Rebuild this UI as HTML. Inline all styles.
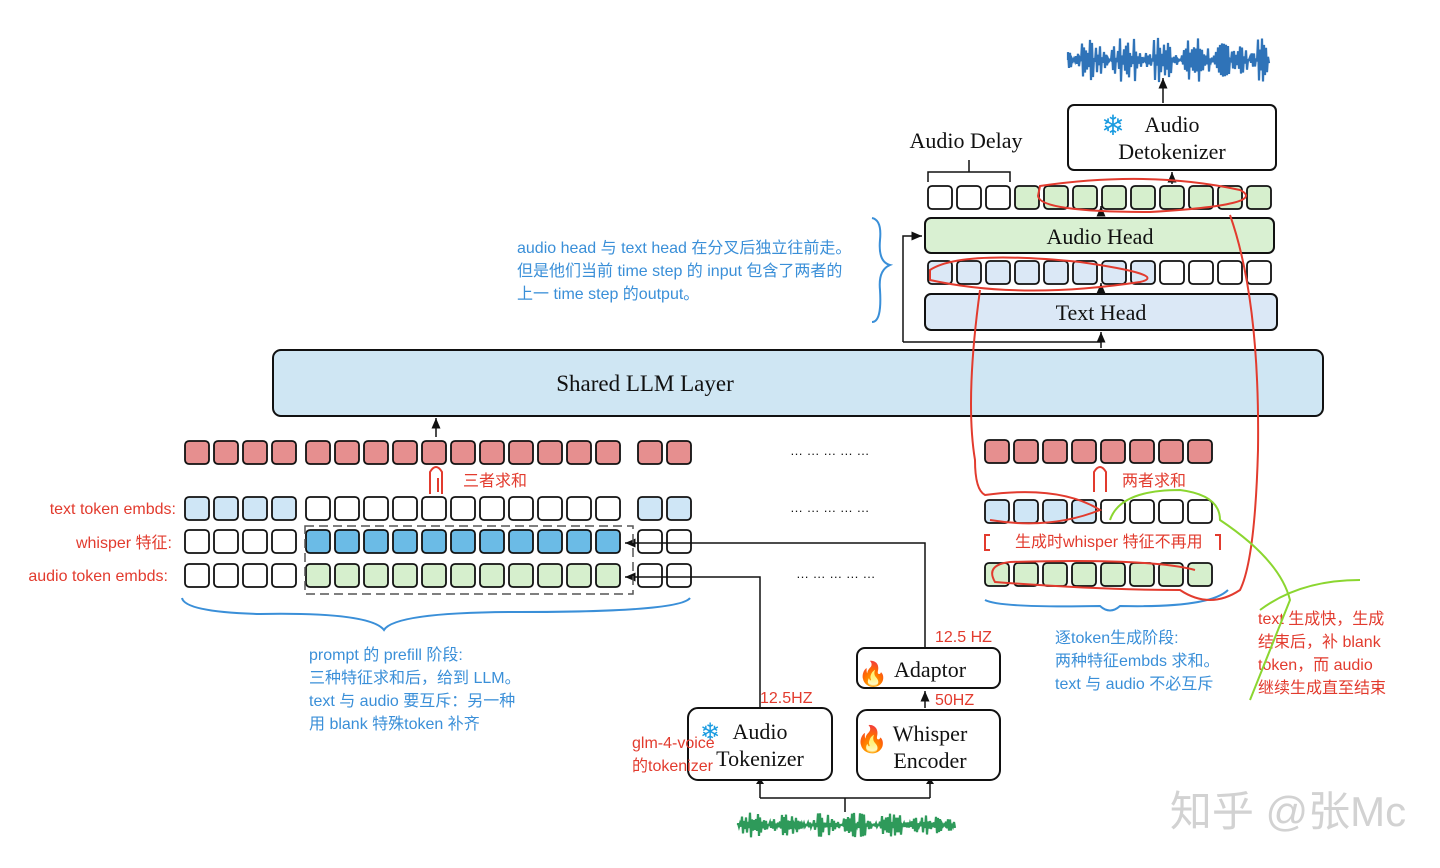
<!DOCTYPE html>
<html><head><meta charset="utf-8">
<style>
html,body{margin:0;padding:0;background:#fff;}
svg{display:block;}
.serif{font-family:"Liberation Serif","Noto Serif CJK SC",serif;fill:#111;}
.cn{font-family:"Liberation Sans","Noto Sans CJK SC",sans-serif;}
</style></head>
<body>
<svg id="s" width="1440" height="868" viewBox="0 0 1440 868" xmlns="http://www.w3.org/2000/svg">
<defs>
<marker id="ar" markerWidth="8" markerHeight="8" refX="7" refY="4" orient="auto"><path d="M0,1 L7,4 L0,7 z" fill="#111"/></marker>
</defs>
<g id="boxes"></g>

<rect x="273" y="350" width="1050" height="66" rx="8" fill="#cfe6f3" stroke="#111" stroke-width="2"/>
<text x="645" y="391" class="serif" font-size="23" text-anchor="middle">Shared LLM Layer</text>

<rect x="925" y="218" width="349" height="35" rx="6" fill="#d9f0d2" stroke="#111" stroke-width="2"/>
<text x="1100" y="244" class="serif" font-size="22" text-anchor="middle">Audio Head</text>
<rect x="925" y="294" width="352" height="36" rx="6" fill="#dbe8f6" stroke="#111" stroke-width="2"/>
<text x="1101" y="320" class="serif" font-size="22" text-anchor="middle">Text Head</text>
<rect x="1068" y="105" width="208" height="65" rx="6" fill="#fff" stroke="#111" stroke-width="2"/>
<text x="1172" y="132" class="serif" font-size="22" text-anchor="middle">Audio</text>
<text x="1172" y="159" class="serif" font-size="22" text-anchor="middle">Detokenizer</text>
<text x="1113" y="135" font-size="28" fill="#1a9be0" text-anchor="middle" font-family="DejaVu Sans">❄</text>
<text x="966" y="148" class="serif" font-size="22" text-anchor="middle">Audio Delay</text>
<path d="M928,182 V172 H1010 V182 M969,172 V160" fill="none" stroke="#111" stroke-width="1.5"/>

<g stroke="#111" stroke-width="1.5" fill="none">
<path d="M1163,103 V78" marker-end="url(#ar)"/>
<path d="M1172,184 V172" marker-end="url(#ar)"/>
<path d="M1101,216 V206" marker-end="url(#ar)"/>
<path d="M1101,292 V283" marker-end="url(#ar)"/>
<path d="M1101,348 V332" marker-end="url(#ar)"/>
<path d="M903,342 H1101 M903,342 V236 H922" marker-end="url(#ar)"/>
<path d="M436,437 V418" marker-end="url(#ar)"/>
<path d="M925,647 V543 H625" marker-end="url(#ar)"/>
<path d="M760,707 V577 H625" marker-end="url(#ar)"/>
<path d="M925,708 V691" marker-end="url(#ar)"/>
<path d="M845,812 V798 M760,798 H930 M760,798 V782 M930,798 V782"/>
</g>
<path d="M756,784 l4,-6 l4,6z M926,784 l4,-6 l4,6z" fill="#111"/>
<rect x="305" y="526" width="328" height="68" fill="none" stroke="#555" stroke-width="1.5" stroke-dasharray="9,5"/>

<rect x="688" y="708" width="144" height="72" rx="10" fill="#fff" stroke="#111" stroke-width="2"/>
<text x="760" y="739" class="serif" font-size="22" text-anchor="middle">Audio</text>
<text x="760" y="766" class="serif" font-size="22" text-anchor="middle">Tokenizer</text>
<text x="710" y="740" font-size="24" fill="#1a9be0" text-anchor="middle" font-family="DejaVu Sans">❄</text>
<rect x="857" y="710" width="143" height="70" rx="10" fill="#fff" stroke="#111" stroke-width="2"/>
<text x="930" y="741" class="serif" font-size="22" text-anchor="middle">Whisper</text>
<text x="930" y="768" class="serif" font-size="22" text-anchor="middle">Encoder</text>
<text x="872" y="748" font-size="26" fill="#f06a1a" text-anchor="middle" font-family="DejaVu Sans">🔥</text>
<rect x="857" y="648" width="143" height="40" rx="8" fill="#fff" stroke="#111" stroke-width="2"/>
<text x="930" y="677" class="serif" font-size="22" text-anchor="middle">Adaptor</text>
<text x="873" y="682" font-size="24" fill="#f06a1a" text-anchor="middle" font-family="DejaVu Sans">🔥</text>

<g class="cn" fill="#e23b2e" font-size="16">
<text x="176" y="514" text-anchor="end">text token embds:</text>
<text x="172" y="548" text-anchor="end">whisper 特征:</text>
<text x="168" y="581" text-anchor="end">audio token embds:</text>
<text x="463" y="486">三者求和</text>
<text x="1122" y="486">两者求和</text>
<text x="1015" y="547">生成时whisper 特征不再用</text>
<text x="760" y="703">12.5HZ</text>
<text x="935" y="642">12.5 HZ</text>
<text x="935" y="705">50HZ</text>
<text x="632" y="748">glm-4-voice</text>
<text x="632" y="771">的tokenizer</text>
<text x="1258" y="624">text 生成快，生成</text>
<text x="1258" y="647">结束后，补 blank</text>
<text x="1258" y="670">token，而 audio</text>
<text x="1258" y="693">继续生成直至结束</text>
</g>
<g class="cn" fill="#3a8fd8" font-size="16">
<text x="517" y="253">audio head 与 text head 在分叉后独立往前走。</text>
<text x="517" y="276">但是他们当前 time step 的 input 包含了两者的</text>
<text x="517" y="299">上一 time step 的output。</text>
<text x="309" y="660">prompt 的 prefill 阶段:</text>
<text x="309" y="683">三种特征求和后，给到 LLM。</text>
<text x="309" y="706">text 与 audio 要互斥：另一种</text>
<text x="309" y="729">用 blank 特殊token 补齐</text>
<text x="1055" y="643">逐token生成阶段:</text>
<text x="1055" y="666">两种特征embds 求和。</text>
<text x="1055" y="689">text 与 audio 不必互斥</text>
</g>
<g class="cn" fill="#111" font-size="13">
<text x="790" y="455">… … … … …</text>
<text x="790" y="512">… … … … …</text>
<text x="796" y="578">… … … … …</text>
</g>
<text x="1288" y="826" class="cn" font-size="42" fill="#d2d2d2" text-anchor="middle">知乎 @张Mc</text>

<g fill="none" stroke-width="2">
<path d="M182,598 Q185,612 260,614 Q370,612 384,630 Q395,612 520,612 Q680,612 690,598" stroke="#3a8fd8"/>
<path d="M985,600 Q1000,608 1100,606 Q1110,615 1120,606 Q1210,608 1228,590" stroke="#3a8fd8"/>
<path d="M872,218 Q882,220 880,240 Q878,262 890,265 Q878,270 880,290 Q882,322 872,322" stroke="#3a8fd8"/>
<path d="M430,494 V472 Q436,462 442,472 V494 M438,492 V478" stroke="#e23b2e"/>
<path d="M1094,492 V472 Q1100,462 1106,472 V492" stroke="#e23b2e"/>
<path d="M1040,186 Q1150,170 1240,190 Q1270,205 1150,212 Q1040,212 1038,196 Z" stroke="#e23b2e"/>
<path d="M930,270 Q960,250 1080,262 Q1170,275 1140,282 Q1020,300 930,280 Z" stroke="#e23b2e"/>
<path d="M980,290 Q965,400 975,460 Q975,490 985,495 Q1060,485 1100,510 Q1050,530 990,520" stroke="#e23b2e"/>
<path d="M1230,215 Q1260,300 1258,450 Q1255,560 1240,590 Q1210,610 1180,590 Q1100,590 995,582 Q985,565 1010,562 Q1150,558 1195,570" stroke="#e23b2e"/>
<path d="M990,535 L985,535 L985,550 L990,550 M1215,535 L1220,535 L1220,550" stroke="#e23b2e"/>
<path d="M1110,520 Q1120,490 1180,490 Q1220,495 1220,520 Q1280,560 1290,600 Q1270,650 1250,700" stroke="#8bd630"/>
<path d="M1260,610 Q1300,580 1360,580" stroke="#8bd630"/>
</g>

<g id="waves"></g>
</svg>
<script>
var NS="http://www.w3.org/2000/svg",g=document.getElementById('boxes');
function r(x,y,w,h,f){var e=document.createElementNS(NS,'rect');e.setAttribute('x',x);e.setAttribute('y',y);e.setAttribute('width',w);e.setAttribute('height',h);e.setAttribute('rx',4);e.setAttribute('fill',f);e.setAttribute('stroke','#111');e.setAttribute('stroke-width',1.8);g.appendChild(e);}
var L=[185,214,243,272],M=[],R=[638,667];for(var i=0;i<11;i++)M.push(306+i*29);
var red='#e68f8f',lb='#cfe6f6',db='#6bbbe6',lg='#d6efcd';
L.concat(M,R).forEach(function(x){r(x,441,24,23,red);});
L.forEach(function(x){r(x,497,24,23,lb);});M.forEach(function(x){r(x,497,24,23,'#fff');});R.forEach(function(x){r(x,497,24,23,lb);});
L.forEach(function(x){r(x,530,24,23,'#fff');});M.forEach(function(x){r(x,530,24,23,db);});R.forEach(function(x){r(x,530,24,23,'#fff');});
L.forEach(function(x){r(x,564,24,23,'#fff');});M.forEach(function(x){r(x,564,24,23,lg);});R.forEach(function(x){r(x,564,24,23,'#fff');});
for(i=0;i<8;i++){var x=985+i*29;r(x,440,24,23,red);r(x,500,24,23,i<4?lb:'#fff');r(x,563,24,23,lg);}
for(i=0;i<12;i++){var x=928+i*29;r(x,186,24,23,i<3?'#fff':lg);r(x,261,24,23,i<8?'#dbe8f6':'#fff');}
var w=document.getElementById('waves');
function wave(x0,x1,yc,amp,col,seed){var d='M'+x0+','+yc;var s=seed;for(var x=x0;x<=x1;x+=2){s=(s*9301+49297)%233280;var a=amp*(0.2+0.8*Math.abs(Math.sin(x*0.09+seed)))*(s/233280);d+=' L'+x+','+(yc-a)+' L'+(x+1)+','+(yc+a);}var p=document.createElementNS(NS,'path');p.setAttribute('d',d);p.setAttribute('stroke',col);p.setAttribute('stroke-width',2.2);p.setAttribute('fill','none');w.appendChild(p);}
wave(1068,1268,60,26,'#2f73b8',7);
wave(738,955,825,13,'#2e9a5a',3);
</script>
</body></html>
